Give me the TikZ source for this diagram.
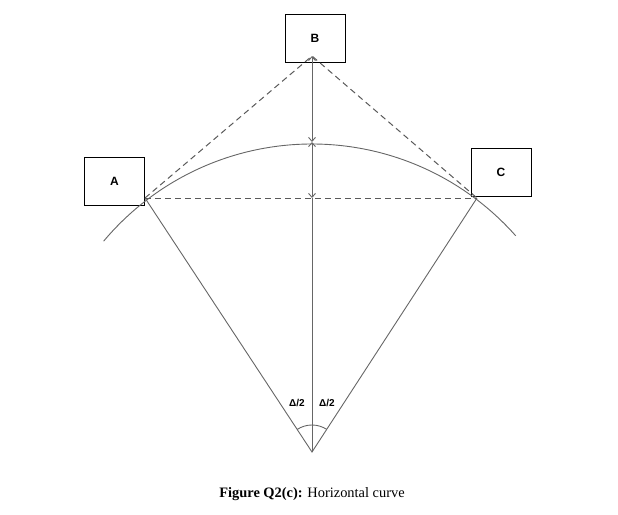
\documentclass[tikz,border=0pt]{standalone}
\usepackage{fontspec}
\setmainfont{Liberation Serif}
\newfontfamily\lab{Liberation Sans}
\usetikzlibrary{arrows.meta}
\begin{document}
\begin{tikzpicture}[x=1pt,y=-1pt,
  ln/.style={draw=black!60,line width=0.9pt},
  dsh/.style={draw=black!65,line width=1pt,dash pattern=on 6pt off 4pt},
  lbox/.style={draw,line width=1pt,minimum width=60pt,minimum height=48pt,font=\lab\bfseries\large},
  dim/.style={ln,{Straight Barb[length=4pt,width=7pt]}-{Straight Barb[length=4pt,width=7pt]}}]
\useasboundingbox (0,0) rectangle (618,514);
\coordinate (A) at (145,198);
\coordinate (C) at (477,198);
\coordinate (B) at (312,56);
\coordinate (T) at (312,142);
\coordinate (M) at (312,198);
\coordinate (O) at (312,452);
\node[lbox] (bA) at (114.5,181) {A};
\node[lbox] (bB) at (315,38) {B};
\node[lbox] (bC) at (501,172.5) {C};
\draw[ln] (312,416) ++(-140:272) arc[start angle=-140,end angle=-41.5,radius=272];
\draw[dsh] (A) -- (B) -- (C);
\draw[dsh] (A) -- (C);
\draw[ln] (A) -- (O) -- (C);
\draw[ln] (M) -- (O);
\draw[dim] (B) -- (T);
\draw[dim] (T) -- (M);
\draw[ln] (O) ++(-123.3:27) arc[start angle=-123.3,end angle=-57,radius=27];
\node[font=\lab\bfseries\normalsize] (d1) at (297,403) {Δ/2};
\node[font=\lab\bfseries\normalsize] (d2) at (327,403) {Δ/2};
\node[font=\Large] (cap) at (312,494) {\textbf{Figure Q2(c):} Horizontal curve};
\end{tikzpicture}
\end{document}
